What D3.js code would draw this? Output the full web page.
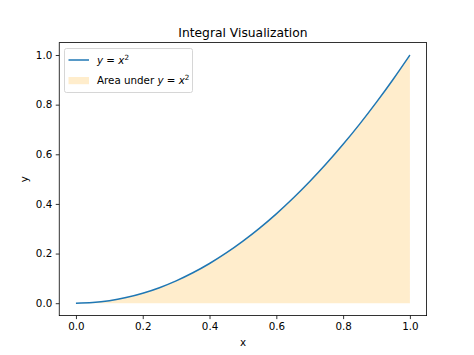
<!DOCTYPE html>
<html><head><meta charset="utf-8">
<script src="https://cdn.jsdelivr.net/npm/d3@7"></script>
<style>body{margin:0;background:#fff}svg{display:block;font-family:"DejaVu Sans",sans-serif}</style>
</head><body><svg id="c" width="474" height="355"></svg>
<script>
const xValues = [0,0.05,0.1,0.15,0.2,0.25,0.3,0.35,0.4,0.45,0.5,0.55,0.6,0.65,0.7,0.75,0.8,0.85,0.9,0.95,1.0];
const yValues = [0,0.0025,0.01,0.0225,0.04,0.0625,0.09,0.1225,0.16,0.2025,0.25,0.3025,0.36,0.4225,0.49,0.5625,0.64,0.7225,0.81,0.9025,1.0];
const xTicks = [0,0.2,0.4,0.6,0.8,1.0];
const yTicks = [0,0.2,0.4,0.6,0.8,1.0];
const titleText = "Integral Visualization";
const xLabel = "x", yLabel = "y";

const svg = d3.select("#c");
const L = 59.25, R = 426.6, T = 42.6, B = 315.6;
const x = d3.scaleLinear().domain([-0.05,1.05]).range([L,R]);
const y = d3.scaleLinear().domain([-0.05,1.05]).range([B,T]);
const data = xValues.map((v,i)=>({x:v,y:yValues[i]}));

svg.append("path").datum(data)
  .attr("d", d3.area().x(d=>x(d.x)).y0(y(0)).y1(d=>y(d.y)).curve(d3.curveMonotoneX))
  .attr("fill","#ffa500").attr("fill-opacity",0.2);
svg.append("path").datum(data)
  .attr("d", d3.line().x(d=>x(d.x)).y(d=>y(d.y)).curve(d3.curveMonotoneX))
  .attr("fill","none").attr("stroke","#1f77b4").attr("stroke-width",1.5);

const fs = 10.3;
const gx = svg.append("g").attr("transform",`translate(0,${B})`)
  .call(d3.axisBottom(x).tickValues(xTicks).tickFormat(d3.format(".1f")).tickSize(3.5).tickPadding(3.5));
const gy = svg.append("g").attr("transform",`translate(${L},0)`)
  .call(d3.axisLeft(y).tickValues(yTicks).tickFormat(d3.format(".1f")).tickSize(3.5).tickPadding(3.5));
[gx,gy].forEach(g=>{
  g.select(".domain").remove();
  g.selectAll("line").attr("stroke","#000").attr("stroke-width",0.8);
  g.selectAll("text").attr("font-family","DejaVu Sans").attr("font-size",fs).attr("fill","#000");
});
svg.append("rect").attr("x",L).attr("y",T).attr("width",R-L).attr("height",B-T)
  .attr("fill","none").attr("stroke","#000").attr("stroke-width",0.8);

svg.append("text").attr("x",(L+R)/2).attr("y",T-6).attr("text-anchor","middle")
  .attr("font-size",12.3).text(titleText);
svg.append("text").attr("x",(L+R)/2).attr("y",346).attr("text-anchor","middle")
  .attr("font-size",fs).text(xLabel);
svg.append("text").attr("transform",`translate(28,${(T+B)/2}) rotate(-90)`).attr("text-anchor","middle")
  .attr("font-size",fs).text(yLabel);

// legend
const lg = svg.append("g");
lg.append("rect").attr("x",64.5).attr("y",48.5).attr("width",128).attr("height",44).attr("rx",2)
  .attr("fill","#fff").attr("fill-opacity",0.8).attr("stroke","#ccc").attr("stroke-width",0.8);
lg.append("line").attr("x1",68.5).attr("x2",89).attr("y1",60).attr("y2",60)
  .attr("stroke","#1f77b4").attr("stroke-width",1.5);
lg.append("rect").attr("x",68.5).attr("y",77).attr("width",20.5).attr("height",7.2)
  .attr("fill","#ffa500").attr("fill-opacity",0.2);
function mathLabel(t, prefix, yy){
  const tx = lg.append("text").attr("x",97).attr("y",yy).attr("font-size",fs);
  if(prefix) tx.append("tspan").text(prefix);
  tx.append("tspan").attr("font-style","italic").text("y");
  tx.append("tspan").text(" = ");
  tx.append("tspan").attr("font-style","italic").text("x");
  tx.append("tspan").attr("font-size",7.2).attr("dy",-4).text("2");
}
mathLabel(lg, "", 63.5);
mathLabel(lg, "Area under ", 84);
</script></body></html>
